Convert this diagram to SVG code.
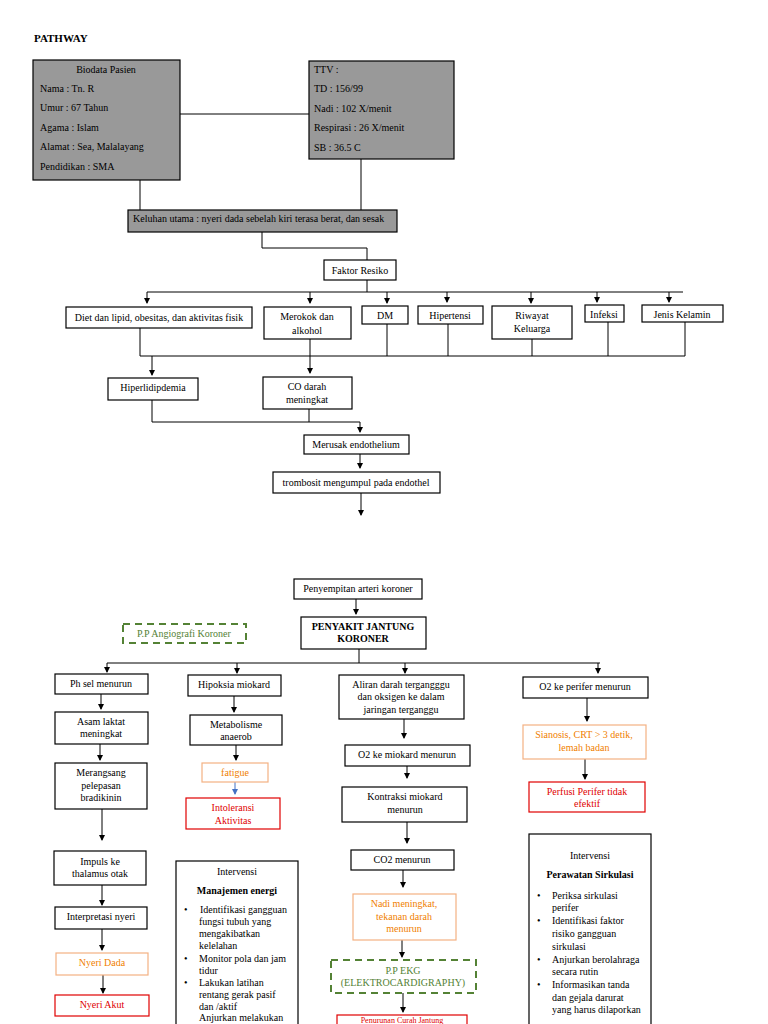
<svg xmlns="http://www.w3.org/2000/svg" width="768" height="1024" viewBox="0 0 768 1024">
<defs>
<marker id="a" markerWidth="6" markerHeight="6" refX="5" refY="3" orient="auto" markerUnits="userSpaceOnUse"><path d="M0,0 L6,3 L0,6 z" fill="#000"/></marker>
<marker id="ab" markerWidth="6" markerHeight="6" refX="5" refY="3" orient="auto" markerUnits="userSpaceOnUse"><path d="M0,0 L6,3 L0,6 z" fill="#4472c4"/></marker>
<style>
text{font-family:"Liberation Serif","Times New Roman",serif;font-size:10px;fill:#000}
.c{text-anchor:middle}
.b{font-weight:bold}
.box{fill:#fff;stroke:#000;stroke-width:1.2}
.gray{fill:#999;stroke:#000;stroke-width:1.2}
.or{fill:#fff;stroke:#f4b183;stroke-width:1.2}
.red{fill:#fff;stroke:#e00000;stroke-width:1.2}
.gr{fill:#fff;stroke:#548235;stroke-width:2;stroke-dasharray:7 5}
.to{fill:#f08000}.tr{fill:#e00000}.tg{fill:#548235}
.l{fill:none;stroke:#000;stroke-width:1}
.ar{fill:none;stroke:#000;stroke-width:1;marker-end:url(#a)}
</style>
</defs>
<text x="34" y="42" class="b" style="font-size:11px">PATHWAY</text>

<g id="conn">
<path class="l" d="M180,114H309M140,180V210M361,159V210M262,232V248H367V260M367,280V292M147,292H683"/>
<line class="ar" x1="147" y1="292" x2="147" y2="303"/>
<line class="ar" x1="310" y1="292" x2="310" y2="303"/>
<line class="ar" x1="387" y1="292" x2="387" y2="303"/>
<line class="ar" x1="447" y1="292" x2="447" y2="302"/>
<line class="ar" x1="531" y1="292" x2="531" y2="303"/>
<line class="ar" x1="597" y1="292" x2="597" y2="302"/>
<line class="ar" x1="669" y1="292" x2="669" y2="302"/>
<path class="l" d="M140,328V356M310,339V356M387,324V356M448,324V356M532,339V356M608,322V356M685,322V356M140,356H685"/>
<line class="ar" x1="152" y1="356" x2="152" y2="375"/>
<line class="ar" x1="310" y1="356" x2="310" y2="373"/>
<path class="l" d="M152,400V422M309,409V422M152,422H360"/>
<line class="ar" x1="360" y1="422" x2="360" y2="432"/>
<line class="ar" x1="360" y1="454" x2="360" y2="468"/>
<line class="ar" x1="361" y1="493" x2="361" y2="515"/>
<line class="ar" x1="356" y1="599" x2="356" y2="614"/>
<path class="l" d="M359,649V663M107,663H600"/>
<line class="ar" x1="107" y1="663" x2="107" y2="672"/>
<line class="ar" x1="237" y1="663" x2="237" y2="673"/>
<line class="ar" x1="405" y1="663" x2="405" y2="673"/>
<line class="ar" x1="598" y1="663" x2="598" y2="673"/>
<line class="ar" x1="101" y1="694" x2="101" y2="709"/>
<line class="ar" x1="100" y1="744" x2="100" y2="760"/>
<line class="ar" x1="102" y1="809" x2="102" y2="840"/>
<line class="ar" x1="102" y1="885" x2="102" y2="905"/>
<line class="ar" x1="102" y1="929" x2="102" y2="950"/>
<line class="ar" x1="103" y1="975" x2="103" y2="993"/>
<line class="ar" x1="234" y1="696" x2="234" y2="712"/>
<line class="ar" x1="236" y1="745" x2="236" y2="760"/>
<line class="ar" x1="404" y1="719" x2="404" y2="738"/>
<line class="ar" x1="407" y1="766" x2="407" y2="778"/>
<line class="ar" x1="407" y1="822" x2="407" y2="843"/>
<line class="ar" x1="403" y1="870" x2="403" y2="887"/>
<line class="ar" x1="402" y1="940" x2="402" y2="957"/>
<line class="ar" x1="403" y1="993" x2="403" y2="1012"/>
<line class="ar" x1="587" y1="698" x2="587" y2="721"/>
<line class="ar" x1="585" y1="759" x2="585" y2="779"/>
<line x1="235" y1="782" x2="235" y2="794" stroke="#4472c4" marker-end="url(#ab)"/>
</g>

<g id="biodata"><rect class="gray" x="33" y="60" width="147" height="120"/>
<text x="106" y="73" class="c">Biodata Pasien</text>
<text x="40" y="92">Nama : Tn. R</text><text x="40" y="111">Umur : 67 Tahun</text><text x="40" y="131">Agama : Islam</text><text x="40" y="150">Alamat : Sea, Malalayang</text><text x="40" y="170">Pendidikan : SMA</text></g>
<g id="ttv"><rect class="gray" x="309" y="61" width="145" height="98"/>
<text x="314" y="73">TTV :</text><text x="314" y="92">TD : 156/99</text><text x="314" y="112">Nadi : 102 X/menit</text><text x="314" y="131">Respirasi : 26 X/menit</text><text x="314" y="151">SB : 36.5 C</text></g>
<g id="keluhan"><rect class="gray" x="128" y="210" width="269" height="22"/><text x="133" y="222">Keluhan utama : nyeri dada sebelah kiri terasa berat, dan sesak</text></g>
<g id="faktor"><rect class="box" x="324" y="260" width="72" height="20"/><text x="360" y="274" class="c">Faktor Resiko</text></g>
<g id="diet"><rect class="box" x="66" y="307" width="186" height="21"/><text x="159" y="321" class="c">Diet dan lipid, obesitas, dan aktivitas fisik</text></g>
<g id="merokok"><rect class="box" x="264" y="307" width="87" height="32"/><text x="307" y="320" class="c">Merokok dan</text><text x="307" y="334" class="c">alkohol</text></g>
<g id="dm"><rect class="box" x="362" y="306" width="46" height="18"/><text x="385" y="319" class="c">DM</text></g>
<g id="hipertensi"><rect class="box" x="418" y="306" width="65" height="18"/><text x="450" y="319" class="c">Hipertensi</text></g>
<g id="riwayat"><rect class="box" x="492" y="306" width="80" height="33"/><text x="532" y="319" class="c">Riwayat</text><text x="532" y="332" class="c">Keluarga</text></g>
<g id="infeksi"><rect class="box" x="585" y="305" width="39" height="17"/><text x="604" y="318" class="c">Infeksi</text></g>
<g id="jenis"><rect class="box" x="642" y="305" width="81" height="17"/><text x="682" y="318" class="c">Jenis Kelamin</text></g>
<g id="hiper"><rect class="box" x="108" y="378" width="90" height="22"/><text x="153" y="391" class="c">Hiperlidipdemia</text></g>
<g id="co"><rect class="box" x="263" y="377" width="89" height="32"/><text x="307" y="390" class="c">CO darah</text><text x="307" y="403" class="c">meningkat</text></g>
<g id="merusak"><rect class="box" x="304" y="435" width="105" height="19"/><text x="356" y="448" class="c">Merusak endothelium</text></g>
<g id="trombosit"><rect class="box" x="273" y="472" width="167" height="21"/><text x="356" y="486" class="c">trombosit mengumpul pada endothel</text></g>
<g id="penyempitan"><rect class="box" x="294" y="579" width="128" height="20"/><text x="358" y="592" class="c">Penyempitan arteri koroner</text></g>
<g id="pjk"><rect class="box" x="301" y="617" width="125" height="32"/><text x="363" y="630" class="c b">PENYAKIT JANTUNG</text><text x="363" y="642" class="c b">KORONER</text></g>
<g id="angio"><rect class="gr" x="123" y="624" width="123" height="19"/><text x="184" y="637" class="c tg">P.P Angiografi Koroner</text></g>

<g id="ph"><rect class="box" x="55" y="674" width="93" height="20"/><text x="101" y="687" class="c">Ph sel menurun</text></g>
<g id="asam"><rect class="box" x="55" y="712" width="93" height="32"/><text x="101" y="725" class="c">Asam laktat</text><text x="101" y="737" class="c">meningkat</text></g>
<g id="merangsang"><rect class="box" x="55" y="763" width="92" height="46"/><text x="101" y="776" class="c">Merangsang</text><text x="101" y="789" class="c">pelepasan</text><text x="101" y="801" class="c">bradikinin</text></g>
<g id="impuls"><rect class="box" x="54" y="851" width="92" height="34"/><text x="100" y="865" class="c">Impuls ke</text><text x="100" y="877" class="c">thalamus otak</text></g>
<g id="interpretasi"><rect class="box" x="55" y="907" width="92" height="22"/><text x="101" y="920" class="c">Interpretasi nyeri</text></g>
<g id="nyeridada"><rect class="or" x="56" y="953" width="92" height="22"/><text x="102" y="966" class="c to">Nyeri Dada</text></g>
<g id="nyeriakut"><rect class="red" x="55" y="995" width="94" height="21"/><text x="102" y="1008" class="c tr">Nyeri Akut</text></g>

<g id="hipoksia"><rect class="box" x="188" y="675" width="93" height="21"/><text x="234" y="688" class="c">Hipoksia miokard</text></g>
<g id="metabolisme"><rect class="box" x="190" y="715" width="92" height="30"/><text x="236" y="728" class="c">Metabolisme</text><text x="236" y="740" class="c">anaerob</text></g>
<g id="fatigue"><rect class="or" x="202" y="763" width="66" height="19"/><text x="235" y="776" class="c to">fatigue</text></g>
<g id="intoleransi"><rect class="red" x="186" y="798" width="94" height="31"/><text x="233" y="811" class="c tr">Intoleransi</text><text x="233" y="824" class="c tr">Aktivitas</text></g>
<g id="intervensi1"><rect class="box" x="176" y="861" width="122" height="170"/>
<text x="237" y="875" class="c">Intervensi</text><text x="237" y="894" class="c b">Manajemen energi</text>
<text x="184" y="913">•</text><text x="200" y="913"> Identifikasi gangguan</text><text x="199" y="925">fungsi tubuh yang</text><text x="199" y="937">mengakibatkan</text><text x="199" y="949">kelelahan</text>
<text x="184" y="962">•</text><text x="199" y="962">Monitor pola dan jam</text><text x="199" y="974">tidur</text>
<text x="184" y="986">•</text><text x="199" y="986">Lakukan latihan</text><text x="199" y="998">rentang gerak pasif</text><text x="199" y="1010">dan /aktif</text><text x="199" y="1021">Anjurkan melakukan</text></g>

<g id="aliran"><rect class="box" x="339" y="675" width="125" height="44"/><text x="401" y="688" class="c">Aliran darah tergangggu</text><text x="401" y="700" class="c">dan oksigen ke dalam</text><text x="401" y="713" class="c">jaringan terganggu</text></g>
<g id="o2miokard"><rect class="box" x="345" y="745" width="125" height="21"/><text x="407" y="758" class="c">O2 ke miokard menurun</text></g>
<g id="kontraksi"><rect class="box" x="342" y="787" width="125" height="35"/><text x="405" y="800" class="c">Kontraksi miokard</text><text x="405" y="813" class="c">menurun</text></g>
<g id="co2"><rect class="box" x="351" y="850" width="103" height="20"/><text x="402" y="863" class="c">CO2 menurun</text></g>
<g id="nadi"><rect class="or" x="353" y="894" width="103" height="46"/><text x="404" y="907" class="c to">Nadi meningkat,</text><text x="404" y="920" class="c to">tekanan darah</text><text x="404" y="932" class="c to">menurun</text></g>
<g id="ekg"><rect class="gr" x="331" y="960" width="145" height="33"/><text x="403" y="974" class="c tg">P.P EKG</text><text x="403" y="986" class="c tg">(ELEKTROCARDIGRAPHY)</text></g>
<g id="penurunan"><rect class="red" x="337" y="1015" width="130" height="20"/><text x="402" y="1023" class="c tr" style="font-size:8px">Penurunan Curah Jantung</text></g>

<g id="o2perifer"><rect class="box" x="523" y="677" width="125" height="21"/><text x="585" y="690" class="c">O2 ke perifer menurun</text></g>
<g id="sianosis"><rect class="or" x="523" y="725" width="123" height="34"/><text x="584" y="738" class="c to">Sianosis, CRT &gt; 3 detik,</text><text x="584" y="751" class="c to">lemah badan</text></g>
<g id="perfusi"><rect class="red" x="529" y="782" width="116" height="30"/><text x="587" y="795" class="c tr">Perfusi Perifer tidak</text><text x="587" y="807" class="c tr">efektif</text></g>
<g id="intervensi2"><rect class="box" x="529" y="834" width="122" height="200"/>
<text x="590" y="859" class="c">Intervensi</text><text x="590" y="878" class="c b">Perawatan Sirkulasi</text>
<text x="537" y="899">•</text><text x="552" y="899">Periksa sirkulasi</text><text x="552" y="911">perifer</text>
<text x="537" y="924">•</text><text x="552" y="924">Identifikasi faktor</text><text x="552" y="937">risiko gangguan</text><text x="552" y="950">sirkulasi</text>
<text x="537" y="963">•</text><text x="552" y="963">Anjurkan berolahraga</text><text x="552" y="975">secara rutin</text>
<text x="537" y="988">•</text><text x="552" y="988">Informasikan tanda</text><text x="552" y="1001">dan gejala darurat</text><text x="552" y="1013">yang harus dilaporkan</text></g>
</svg>
